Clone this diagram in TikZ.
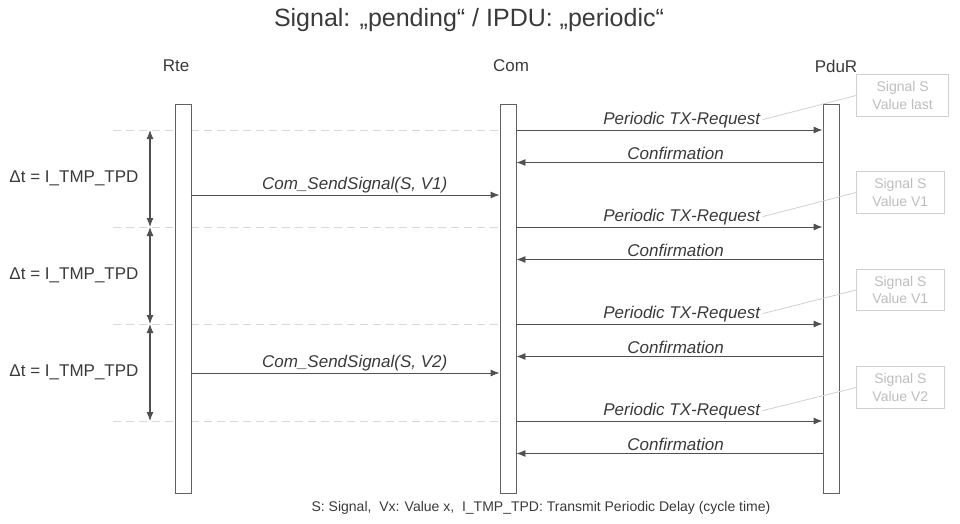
\documentclass[tikz,border=0pt]{standalone}
\usepackage{fontspec}
\setmainfont{Liberation Sans}
\usepackage{tikz}
\usetikzlibrary{arrows.meta}
\usetikzlibrary{positioning,backgrounds,calc}
\usepackage{xcolor}

\definecolor{linegray}{HTML}{505050}
\definecolor{bargray}{HTML}{606060}
\definecolor{textgray}{HTML}{3A3A3A}
\definecolor{notegray}{HTML}{D0D0D0}
\definecolor{notetext}{HTML}{BDBDBD}
\definecolor{dashgray}{HTML}{D8D8D8}

\begin{document}
\begin{tikzpicture}[x=1pt,y=-1pt,>={Latex[length=9pt,width=7pt]},
  lifeline/.style={draw=bargray,fill=white,line width=0.9pt,minimum width=16pt,minimum height=389pt,inner sep=0pt},
  msg/.style={->,draw=linegray,line width=0.9pt},
  msglabel/.style={above,inner sep=2pt,text=textgray,font=\itshape\fontsize{17}{20}\selectfont},
  head/.style={text=textgray,font=\fontsize{17}{20}\selectfont},
  note/.style={draw=notegray,line width=0.9pt,text=notetext,align=center,anchor=west,inner xsep=16pt,inner ysep=7pt,font=\fontsize{14}{17.5}\selectfont},
  leader/.style={draw=notegray,line width=0.8pt},
  period/.style={draw=dashgray,line width=1pt,dash pattern=on 8pt off 5pt},
  span/.style={<->,draw=linegray,line width=1.1pt}]

 % frame of the page
 \useasboundingbox (0,0) rectangle (960,524);

 % title and headers
 \node[text=textgray,font=\fontsize{25}{30}\selectfont] (Title) at (469,20) {Signal: „pending“ / IPDU: „periodic“};
 \node[head] (RteHead) at (176,66) {Rte};
 \node[head] (ComHead) at (511,66) {Com};
 \node[head] (PduRHead) at (836,66) {PduR};

 % lifelines
 \node[lifeline] (RteBar) at (183,298.5) {};
 \node[lifeline] (ComBar) at (508,298.5) {};
 \node[lifeline] (PduRBar) at (831,298.5) {};

 % rows: t = periodic request, c = confirmation, s = send signal
 \foreach \i/\y in {1/130,2/227,3/324,4/421}{
  \coordinate (t\i) at (113,\y);
  \coordinate (d\i) at (150,\y);
  \coordinate (c\i) at (0,\y+32.5);
 }
 \coordinate (s1) at (0,195);
 \coordinate (s2) at (0,373);

 % cycle borders behind the lifelines
 \begin{scope}[on background layer]
  \foreach \i in {1,...,4}
   \draw[period] (t\i) -- (ComBar.west |- t\i);
 \end{scope}

 % cycle time
 \foreach \i/\j in {1/2,2/3,3/4}{
  \draw[span] (d\i) -- (d\j);
  \node[head,left=8pt] (dt\i) at ($(d\i)!0.5!(d\j)$) {Δt = I\_TMP\_TPD};
 }

 % messages Com -> PduR and back
 \foreach \i in {1,...,4}{
  \draw[msg] (ComBar.east |- t\i) -- node[msglabel,pos=0.54] (req\i) {Periodic TX-Request} (PduRBar.west |- t\i);
  \draw[msg] (PduRBar.west |- c\i) -- node[msglabel,pos=0.48] (conf\i) {Confirmation} (ComBar.east |- c\i);
 }

 % messages Rte -> Com
 \draw[msg] (RteBar.east |- s1) -- node[msglabel,pos=0.53] (send1) {Com\_SendSignal(S, V1)} (ComBar.west |- s1);
 \draw[msg] (RteBar.east |- s2) -- node[msglabel,pos=0.53] (send2) {Com\_SendSignal(S, V2)} (ComBar.west |- s2);

 % signal values in the IPDU
 \node[note] (note1) at (856,95.5) {Signal S\\Value last};
 \node[note] (note2) at (856,192.5) {Signal S\\Value V1};
 \node[note] (note3) at (856,290) {Signal S\\Value V1};
 \node[note] (note4) at (856,387.5) {Signal S\\Value V2};
 \foreach \i in {1,...,4}
  \draw[leader] (req\i.east) -- (note\i.west);

 % legend
 \node[text=textgray,font=\fontsize{14}{17}\selectfont] (Legend) at (541,508) {S: Signal,\ \ Vx: Value x,\ \ I\_TMP\_TPD: Transmit Periodic Delay (cycle time)};

\end{tikzpicture}
\end{document}
